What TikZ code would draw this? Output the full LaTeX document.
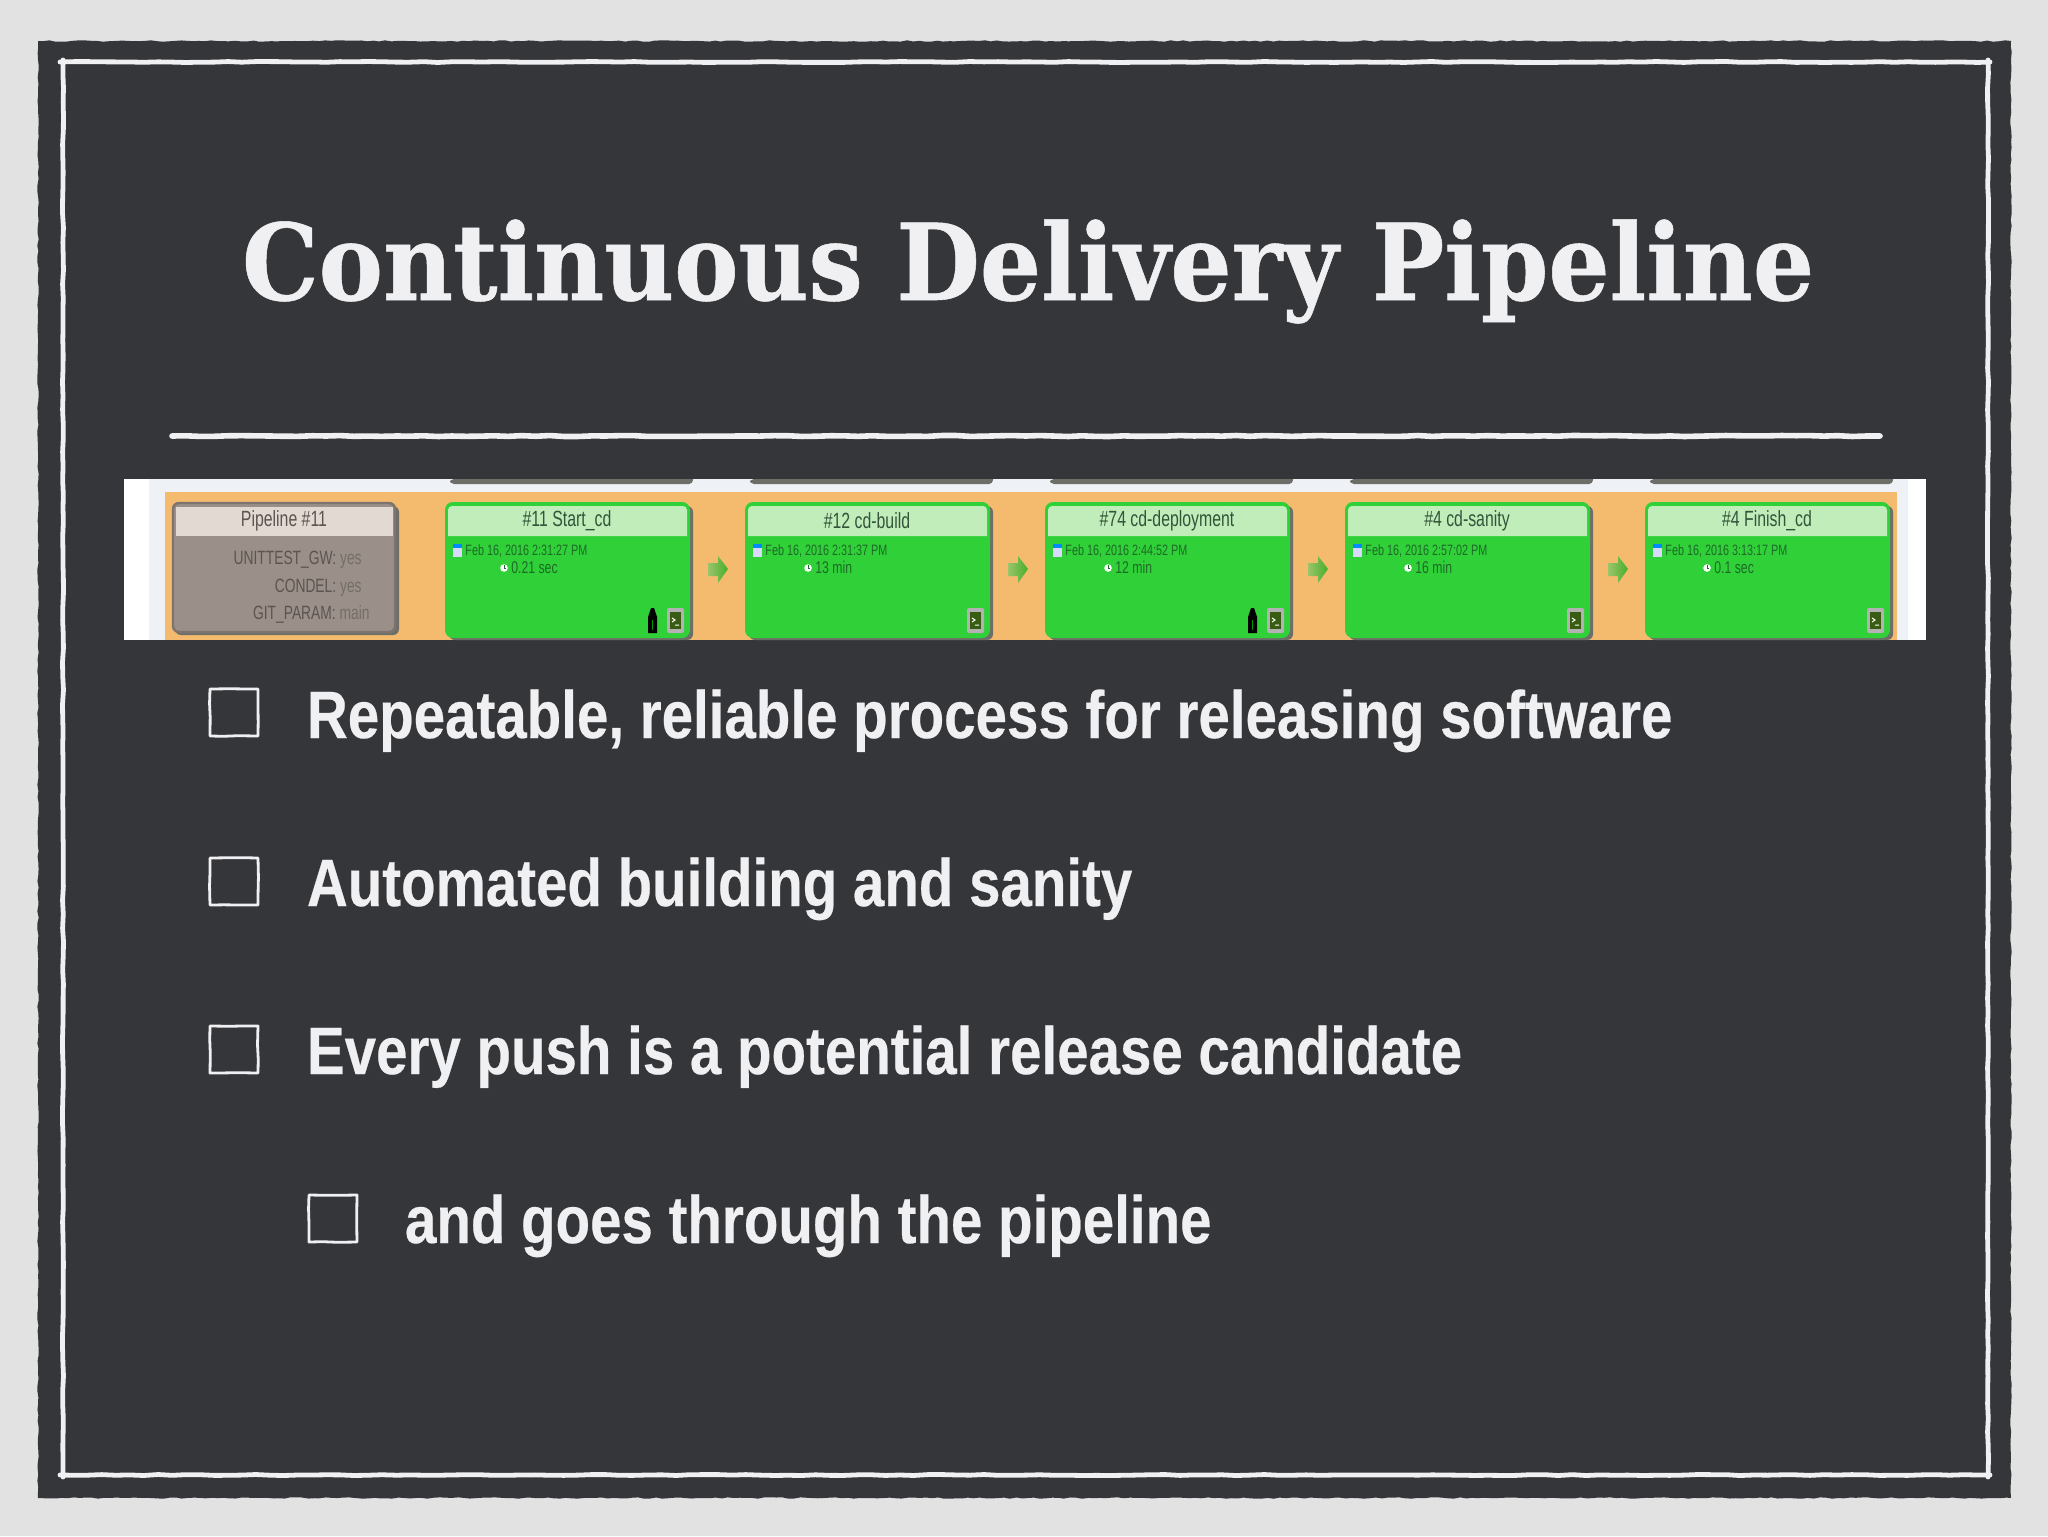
\documentclass[tikz,border=0pt]{standalone}
\usepackage{fontspec}
\usetikzlibrary{decorations.pathmorphing}
\setmainfont{Liberation Sans}
\newfontfamily\titlef[FakeStretch=0.909,BoldFeatures={FakeBold=0.5}]{DejaVu Serif}
\newfontfamily\bodyf[FakeStretch=0.843,BoldFeatures={FakeBold=0.35}]{Liberation Sans}
\newfontfamily\shotf[FakeStretch=0.72]{Liberation Sans}
\definecolor{paper}{HTML}{E2E2E2}
\definecolor{slate}{HTML}{35363A}
\definecolor{chalk}{HTML}{F0F0F2}
\definecolor{orangebg}{HTML}{F4BB6E}
\definecolor{jobgreen}{HTML}{30D038}
\definecolor{jobhead}{HTML}{C0EDBA}
\definecolor{jobtext}{HTML}{34543A}
\definecolor{datetext}{HTML}{1E6A28}
\definecolor{greybox}{HTML}{9A8F89}
\definecolor{greyhead}{HTML}{E2D9D3}
\definecolor{greyedge}{HTML}{7D746F}
\definecolor{greyshadow}{HTML}{6E6E68}
\definecolor{greylabel}{HTML}{5C5450}
\definecolor{greyvalue}{HTML}{746E69}
\definecolor{offwhite}{HTML}{EEF2F6}
\definecolor{arrowpale}{HTML}{9CC46A}
\definecolor{arrowdeep}{HTML}{46AE2C}
\tikzset{
  x=0.5pt,y=-0.5pt,
  rough/.style={decorate,decoration={random steps,segment length=7pt,amplitude=0.25pt}},
  edgy/.style={decorate,decoration={random steps,segment length=3pt,amplitude=0.35pt}},
  chalkline/.style={draw=chalk,rough,line cap=round,line join=round},
  txt/.style={inner sep=0pt,outer sep=0pt,anchor=base west,text=chalk},
  titletxt/.style={txt,font=\titlef\bfseries\fontsize{53pt}{60pt}\selectfont},
  bullettxt/.style={txt,font=\bodyf\bfseries\fontsize{33.5pt}{38pt}\selectfont},
  bulletbox/.style={chalkline,line width=1.4pt},
  headtxt/.style={inner sep=0pt,anchor=center,font=\shotf\fontsize{11pt}{12pt}\selectfont},
  datetxt/.style={inner sep=0pt,anchor=base west,text=datetext,font=\shotf\fontsize{7.5pt}{8pt}\selectfont},
  durtxt/.style={inner sep=0pt,anchor=base west,text=datetext,font=\shotf\fontsize{8.5pt}{9pt}\selectfont},
  greytxt/.style={inner sep=0pt,anchor=base east,font=\shotf\fontsize{9.6pt}{11pt}\selectfont},
}
\pgfmathsetseed{7}
\begin{document}
\begin{tikzpicture}
\useasboundingbox (0,0) rectangle (2048,1536);
\fill[paper] (0,0) rectangle (2048,1536);
\fill[slate,edgy] (38,41) rectangle (2011,1498);
% chalk frame
\draw[chalkline,line width=2.4pt] (63,60) -- (63,1477);
\draw[chalkline,line width=2.4pt] (60,62) -- (1990,62);
\draw[chalkline,line width=2.4pt] (1988,60) -- (1988,1477);
\draw[chalkline,line width=2.4pt] (60,1475) -- (1990,1475);
% title and rule
\node[titletxt] (title) at (242,300) {Continuous Delivery Pipeline};
\coordinate (ruleL) at (172,436);
\coordinate (ruleR) at (1880,436);
\draw[chalkline,line width=2.8pt] (ruleL) -- (ruleR);
% screenshot
\fill[white] (124,479) rectangle (1926,640);
\fill[offwhite] (149,479) rectangle (1908,640);
\foreach \k in {0,1,2,3,4}{
  \fill[greyshadow] ({450+300*\k},479) -- ({693+300*\k},479) [rounded corners=2pt] -- ({693+300*\k},484) -- ({450+300*\k},484) -- cycle;
}
\fill[orangebg] (165,492) rectangle (1897,640);
% parameter box
\fill[greyshadow,rounded corners=3pt] (175,506) rectangle (399,635);
\fill[greybox,draw=greyedge,line width=1.2pt,rounded corners=3pt] (173,503) rectangle (395,632);
\fill[greyhead] (176,507) rectangle (393,536);
\node[headtxt,text=greylabel] (pipehead) at (284,521) {Pipeline \#11};
\node[greytxt] (p1) at (362,564) {\textcolor{greylabel}{UNITTEST\_GW:} \textcolor{greyvalue}{yes}};
\node[greytxt] (p2) at (362,592) {\textcolor{greylabel}{CONDEL:} \textcolor{greyvalue}{yes}};
\node[greytxt] (p3) at (370,619) {\textcolor{greylabel}{GIT\_PARAM:} \textcolor{greyvalue}{main}};
% jobs
\foreach \i/\x/\jt/\jd/\du/\co/\bot in {
  1/445/{\#11 Start\_cd}/{Feb 16, 2016 2:31:27 PM}/{0.21 sec}/59/1,
  2/745/{\#12 cd-build}/{Feb 16, 2016 2:31:37 PM}/{13 min}/63/0,
  3/1045/{\#74 cd-deployment}/{Feb 16, 2016 2:44:52 PM}/{12 min}/63/1,
  4/1345/{\#4 cd-sanity}/{Feb 16, 2016 2:57:02 PM}/{16 min}/63/0,
  5/1645/{\#4 Finish\_cd}/{Feb 16, 2016 3:13:17 PM}/{0.1 sec}/62/0}{
  \fill[greyshadow,rounded corners=3pt] (\x+4,506) rectangle (\x+248,640);
  \fill[jobgreen,rounded corners=4pt] (\x,502) rectangle (\x+245,638);
  \fill[jobhead] (\x+3,536) [rounded corners=2pt] -- (\x+3,506) -- (\x+242,506) [sharp corners] -- (\x+242,536) -- cycle;
  \node[headtxt,text=jobtext] (job\i) at (\x+122,521) {\jt};
  % calendar
  \fill[white!85!blue] (\x+8,544) rectangle (\x+17,557);
  \fill[blue!45!cyan] (\x+8,544) rectangle (\x+17,548);
  \node[datetxt] (date\i) at (\x+20,555) {\jd};
  % clock
  \fill[white] (\x+\co,568) circle (1.9pt);
  \draw[datetext,line width=0.4pt] (\x+\co,565) -- (\x+\co,568) -- (\x+\co+2,568);
  \node[durtxt] (dur\i) at (\x+\co+7,573) {\du};
  % console icon
  \fill[gray!60!white,rounded corners=1pt] (\x+222,608) rectangle (\x+239,633);
  \fill[black!70!green!70!brown] (\x+225,612) rectangle (\x+236,629);
  \draw[white,line width=0.5pt] (\x+227,618) -- (\x+230,620) -- (\x+227,622) (\x+230,625) -- (\x+234,625);
  % bottle icon
  \ifnum\bot=1
    \fill[black] (\x+203,633) -- (\x+203,617) -- (\x+206,608) -- (\x+209,608) -- (\x+212,617) -- (\x+212,633) -- cycle;
    \fill[green!60!black] (\x+207,620) rectangle (\x+208,630);
  \fi
}
% arrows between jobs
\foreach \k in {0,1,2,3}{
  \shade[left color=arrowpale,right color=arrowdeep] ({708+300*\k},563) -- ({718+300*\k},563) -- ({718+300*\k},556) -- ({728+300*\k},569) -- ({718+300*\k},583) -- ({718+300*\k},576) -- ({708+300*\k},576) -- cycle;
}
% bullets
\foreach \n/\bx/\by/\tx/\ty/\t in {
  a/210/689/307/738/{Repeatable, reliable process for releasing software},
  b/210/858/307/906/{Automated building and sanity},
  c/210/1026/307/1074/{Every push is a potential release candidate},
  d/309/1195/405/1243/{and goes through the pipeline}}{
  \draw[bulletbox] (\bx,\by) rectangle (\bx+48,\by+47);
  \node[bullettxt] (item\n) at (\tx,\ty) {\t};
}
\end{tikzpicture}
\end{document}
